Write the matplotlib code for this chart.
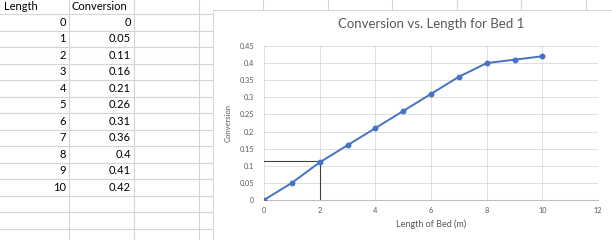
import matplotlib.pyplot as plt
from matplotlib.patches import Rectangle

plt.rcParams['font.family'] = ['Lato', 'DejaVu Sans']

# data from the sheet
length = [0, 1, 2, 3, 4, 5, 6, 7, 8, 9, 10]
conversion = [0, 0.05, 0.11, 0.16, 0.21, 0.26, 0.31, 0.36, 0.4, 0.41, 0.42]
length_labels = ['0', '1', '2', '3', '4', '5', '6', '7', '8', '9', '10']
conversion_labels = ['0', '0.05', '0.11', '0.16', '0.21', '0.26', '0.31', '0.36', '0.4', '0.41', '0.42']
headers = ['Length', 'Conversion']

# guide lines drawn at L = 2 m
ref_x = 2
ref_y = 0.115

W, H = 612, 240
fig = plt.figure(figsize=(W / 100, H / 100), dpi=100)

# spreadsheet background in pixel coordinates
bg = fig.add_axes([0, 0, 1, 1])
bg.set_xlim(0, W)
bg.set_ylim(H, 0)
bg.axis('off')

grid_col = '#d4d4d4'
col_edges = [69, 134, 199, 263, 328, 392, 457, 521, 586]
row_h = 16.5
row_edges = [14 + row_h * i for i in range(14)]
for x in col_edges:
    bg.plot([x, x], [0, H], color=grid_col, lw=0.8)
for y in row_edges:
    bg.plot([0, W], [y, y], color=grid_col, lw=0.8)

# table text
bg.text(4, 7, headers[0], fontsize=8, va='center', ha='left', color='black')
bg.text(72, 7, headers[1], fontsize=8, va='center', ha='left', color='black')
for i in range(len(length_labels)):
    yc = 14 + row_h * i + row_h / 2
    bg.text(66, yc, length_labels[i], fontsize=8, va='center', ha='right')
    bg.text(131, yc, conversion_labels[i], fontsize=8, va='center', ha='right')

# chart frame
bg.add_patch(Rectangle((213, 10), W - 213 + 5, H, facecolor='white',
                       edgecolor='#d9d9d9', lw=0.8, zorder=5))

# chart
ax = fig.add_axes([264 / W, 40 / H, 334 / W, 154 / H])
ax.set_zorder(10)
ax.patch.set_alpha(0)
ax.plot(length, conversion, color='#4472C4', lw=1.4, marker='o', markersize=3.2, zorder=4)
ax.plot([0, ref_x], [ref_y, ref_y], color='#404040', lw=0.8, zorder=3)
ax.plot([ref_x, ref_x], [ref_y, 0], color='#404040', lw=0.8, zorder=3)

ax.set_xlim(0, 12)
ax.set_ylim(0, 0.45)
ax.set_xticks(range(0, 13, 2))
ax.set_yticks([0, 0.05, 0.1, 0.15, 0.2, 0.25, 0.3, 0.35, 0.4, 0.45])
ax.set_yticklabels(['0', '0.05', '0.1', '0.15', '0.2', '0.25', '0.3', '0.35', '0.4', '0.45'])
ax.grid(True, color='#d9d9d9', lw=0.6)
ax.set_axisbelow(True)
for s in ['top', 'right', 'left']:
    ax.spines[s].set_visible(False)
ax.spines['bottom'].set_color('#bfbfbf')
ax.spines['bottom'].set_linewidth(0.8)
ax.tick_params(length=0, labelsize=5.3, labelcolor='#595959')
ax.tick_params(axis='y', pad=7)
ax.tick_params(axis='x', pad=5)

ax.set_title('Conversion vs. Length for Bed 1', fontsize=9.5, color='#595959', pad=13)
ax.set_xlabel('Length of Bed (m)', fontsize=6.5, color='#595959', labelpad=4)
ax.set_ylabel('Conversion', fontsize=5.5, color='#595959', labelpad=6)

fig.savefig('out.png', dpi=100)
